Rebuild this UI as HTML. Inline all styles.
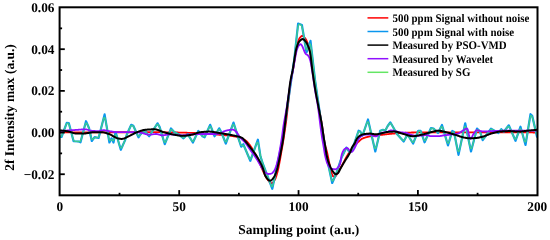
<!DOCTYPE html>
<html><head><meta charset="utf-8"><style>
html,body{margin:0;padding:0;background:#fff;}
svg{display:block;}
text{font-family:'Liberation Serif','Times New Roman',serif;font-weight:bold;fill:#000;text-rendering:geometricPrecision;}
</style></head><body>
<svg width="550" height="240" viewBox="0 0 550 240">
<rect width="550" height="240" fill="#fff"/>
<g fill="none" stroke-linejoin="round" stroke-linecap="round">
<path d="M60.0,132.40 60.5,132.40 61.0,132.40 61.5,132.40 62.0,132.39 62.5,132.39 63.0,132.39 63.5,132.39 64.0,132.39 64.5,132.39 65.0,132.39 65.5,132.38 66.0,132.38 66.5,132.38 67.0,132.38 67.5,132.38 68.0,132.38 68.5,132.38 69.0,132.38 69.5,132.37 70.0,132.37 70.5,132.37 71.0,132.37 71.5,132.37 72.0,132.37 72.5,132.37 73.0,132.36 73.5,132.36 74.0,132.36 74.5,132.36 75.0,132.36 75.5,132.36 76.0,132.36 76.5,132.36 77.0,132.35 77.5,132.35 78.0,132.35 78.5,132.35 79.0,132.35 79.5,132.35 80.0,132.35 80.5,132.35 81.0,132.34 81.5,132.34 82.0,132.34 82.5,132.34 83.0,132.34 83.5,132.34 84.0,132.34 84.5,132.34 85.0,132.33 85.5,132.33 86.0,132.33 86.5,132.33 87.0,132.33 87.5,132.33 88.0,132.33 88.5,132.33 89.0,132.32 89.5,132.32 90.0,132.32 90.5,132.32 91.0,132.32 91.5,132.32 92.0,132.32 92.5,132.32 93.0,132.32 93.5,132.31 94.0,132.31 94.5,132.31 95.0,132.31 95.5,132.31 96.0,132.31 96.5,132.31 97.0,132.31 97.5,132.31 98.0,132.30 98.5,132.30 99.0,132.30 99.5,132.30 100.0,132.30 100.5,132.30 101.0,132.30 101.5,132.30 102.0,132.30 102.5,132.29 103.0,132.29 103.5,132.29 104.0,132.29 104.5,132.29 105.0,132.29 105.5,132.29 106.0,132.29 106.5,132.29 107.0,132.28 107.5,132.28 108.0,132.28 108.5,132.28 109.0,132.28 109.5,132.28 110.0,132.28 110.5,132.28 111.0,132.27 111.5,132.27 112.0,132.27 112.5,132.27 113.0,132.27 113.5,132.27 114.0,132.27 114.5,132.27 115.0,132.26 115.5,132.26 116.0,132.26 116.5,132.26 117.0,132.26 117.5,132.26 118.0,132.26 118.5,132.26 119.0,132.26 119.5,132.25 120.0,132.25 120.5,132.25 121.0,132.25 121.5,132.25 122.0,132.25 122.5,132.25 123.0,132.25 123.5,132.24 124.0,132.24 124.5,132.24 125.0,132.24 125.5,132.24 126.0,132.24 126.5,132.24 127.0,132.24 127.5,132.24 128.0,132.23 128.5,132.23 129.0,132.23 129.5,132.23 130.0,132.23 130.5,132.23 131.0,132.23 131.5,132.23 132.0,132.23 132.5,132.22 133.0,132.22 133.5,132.22 134.0,132.22 134.5,132.22 135.0,132.22 135.5,132.22 136.0,132.22 136.5,132.22 137.0,132.22 137.5,132.22 138.0,132.22 138.5,132.21 139.0,132.21 139.5,132.21 140.0,132.21 140.5,132.21 141.0,132.21 141.5,132.21 142.0,132.21 142.5,132.21 143.0,132.21 143.5,132.21 144.0,132.21 144.5,132.21 145.0,132.21 145.5,132.21 146.0,132.20 146.5,132.20 147.0,132.20 147.5,132.20 148.0,132.20 148.5,132.20 149.0,132.20 149.5,132.20 150.0,132.20 150.5,132.20 151.0,132.20 151.5,132.20 152.0,132.20 152.5,132.20 153.0,132.20 153.5,132.20 154.0,132.20 154.5,132.20 155.0,132.20 155.5,132.20 156.0,132.20 156.5,132.20 157.0,132.20 157.5,132.20 158.0,132.21 158.5,132.21 159.0,132.21 159.5,132.21 160.0,132.22 160.5,132.22 161.0,132.23 161.5,132.23 162.0,132.23 162.5,132.24 163.0,132.24 163.5,132.25 164.0,132.26 164.5,132.26 165.0,132.27 165.5,132.28 166.0,132.28 166.5,132.29 167.0,132.30 167.5,132.30 168.0,132.31 168.5,132.32 169.0,132.33 169.5,132.34 170.0,132.35 170.5,132.36 171.0,132.37 171.5,132.38 172.0,132.39 172.5,132.40 173.0,132.41 173.5,132.42 174.0,132.43 174.5,132.44 175.0,132.45 175.5,132.46 176.0,132.47 176.5,132.49 177.0,132.50 177.5,132.51 178.0,132.52 178.5,132.53 179.0,132.55 179.5,132.56 180.0,132.57 180.5,132.59 181.0,132.60 181.5,132.61 182.0,132.63 182.5,132.64 183.0,132.65 183.5,132.67 184.0,132.68 184.5,132.70 185.0,132.71 185.5,132.72 186.0,132.74 186.5,132.75 187.0,132.77 187.5,132.78 188.0,132.80 188.5,132.81 189.0,132.83 189.5,132.84 190.0,132.86 190.5,132.87 191.0,132.89 191.5,132.90 192.0,132.92 192.5,132.94 193.0,132.95 193.5,132.97 194.0,132.99 194.5,133.01 195.0,133.04 195.5,133.06 196.0,133.08 196.5,133.11 197.0,133.13 197.5,133.16 198.0,133.18 198.5,133.21 199.0,133.24 199.5,133.27 200.0,133.30 200.5,133.33 201.0,133.36 201.5,133.39 202.0,133.42 202.5,133.45 203.0,133.49 203.5,133.52 204.0,133.55 204.5,133.59 205.0,133.62 205.5,133.66 206.0,133.70 206.5,133.73 207.0,133.77 207.5,133.81 208.0,133.85 208.5,133.88 209.0,133.92 209.5,133.96 210.0,134.00 210.5,134.04 211.0,134.08 211.5,134.12 212.0,134.16 212.5,134.20 213.0,134.24 213.5,134.28 214.0,134.32 214.5,134.36 215.0,134.40 215.5,134.44 216.0,134.49 216.5,134.53 217.0,134.57 217.5,134.61 218.0,134.65 218.5,134.69 219.0,134.73 219.5,134.77 220.0,134.81 220.5,134.86 221.0,134.90 221.5,134.94 222.0,134.98 222.5,135.02 223.0,135.06 223.5,135.11 224.0,135.15 224.5,135.19 225.0,135.24 225.5,135.28 226.0,135.33 226.5,135.38 227.0,135.43 227.5,135.48 228.0,135.54 228.5,135.59 229.0,135.65 229.5,135.70 230.0,135.76 230.5,135.83 231.0,135.89 231.5,135.96 232.0,136.03 232.5,136.10 233.0,136.17 233.5,136.25 234.0,136.33 234.5,136.42 235.0,136.52 235.5,136.62 236.0,136.73 236.5,136.85 237.0,136.97 237.5,137.10 238.0,137.23 238.5,137.37 239.0,137.52 239.5,137.68 240.0,137.83 240.5,138.00 241.0,138.17 241.5,138.36 242.0,138.56 242.5,138.77 243.0,139.00 243.5,139.25 244.0,139.52 244.5,139.80 245.0,140.10 245.5,140.43 246.0,140.77 246.5,141.17 247.0,141.64 247.5,142.16 248.0,142.73 248.5,143.34 249.0,143.98 249.5,144.64 250.0,145.32 250.5,146.00 251.0,146.71 251.5,147.46 252.0,148.25 252.5,149.07 253.0,149.92 253.5,150.80 254.0,151.70 254.5,152.62 255.0,153.56 255.5,154.50 256.0,155.47 256.5,156.49 257.0,157.53 257.5,158.61 258.0,159.70 258.5,160.80 259.0,161.90 259.5,163.00 260.0,164.11 260.5,165.25 261.0,166.41 261.5,167.57 262.0,168.72 262.5,169.85 263.0,170.95 263.5,172.00 264.0,173.04 264.5,174.10 265.0,175.15 265.5,176.17 266.0,177.14 266.5,178.04 267.0,178.83 267.5,179.50 268.0,180.11 268.5,180.73 269.0,181.32 269.5,181.88 270.0,182.36 270.5,182.76 271.0,183.04 271.5,183.19 272.0,183.15 272.5,182.88 273.0,182.42 273.5,181.81 274.0,181.10 274.5,180.35 275.0,179.50 275.5,178.36 276.0,177.00 276.5,175.45 277.0,173.77 277.5,172.00 278.0,170.01 278.5,167.69 279.0,165.17 279.5,162.55 280.0,159.89 280.5,157.06 281.0,154.13 281.5,151.17 282.0,148.27 282.5,145.39 283.0,142.46 283.5,139.37 284.0,136.17 284.5,132.88 285.0,129.48 285.5,125.96 286.0,122.29 286.5,118.42 287.0,114.21 287.5,109.78 288.0,105.27 288.5,100.86 289.0,96.50 289.5,91.99 290.0,87.57 290.5,83.48 291.0,80.00 291.5,77.22 292.0,74.84 292.5,72.55 293.0,70.00 293.5,67.03 294.0,63.84 294.5,60.63 295.0,57.45 295.5,54.22 296.0,51.14 296.5,48.33 297.0,45.67 297.5,43.50 298.0,41.78 298.5,40.28 299.0,39.11 299.5,38.32 300.0,37.65 300.5,37.04 301.0,36.53 301.5,36.15 302.0,35.94 302.5,35.92 303.0,36.10 303.5,36.45 304.0,36.94 304.5,37.51 305.0,38.15 305.5,38.80 306.0,39.55 306.5,40.48 307.0,41.57 307.5,42.80 308.0,44.15 308.5,45.61 309.0,47.34 309.5,49.34 310.0,51.57 310.5,54.02 311.0,56.91 311.5,60.08 312.0,63.28 312.5,66.59 313.0,70.00 313.5,73.54 314.0,77.22 314.5,80.93 315.0,84.57 315.5,88.04 316.0,91.25 316.5,94.24 317.0,97.09 317.5,99.85 318.0,102.58 318.5,105.32 319.0,108.12 319.5,110.89 320.0,113.62 320.5,116.36 321.0,119.15 321.5,122.01 322.0,125.00 322.5,128.28 323.0,131.86 323.5,135.49 324.0,138.94 324.5,141.96 325.0,144.38 325.5,146.39 326.0,148.20 326.5,150.01 327.0,152.00 327.5,154.28 328.0,156.73 328.5,159.24 329.0,161.70 329.5,164.00 330.0,166.17 330.5,168.27 331.0,170.24 331.5,172.00 332.0,173.78 332.5,175.41 333.0,176.20 333.5,176.33 334.0,176.42 334.5,176.48 335.0,176.50 335.5,176.28 336.0,175.68 336.5,174.84 337.0,173.87 337.5,172.88 338.0,172.00 338.5,171.21 339.0,170.40 339.5,169.59 340.0,168.77 340.5,167.93 341.0,167.08 341.5,166.22 342.0,165.35 342.5,164.46 343.0,163.54 343.5,162.59 344.0,161.62 344.5,160.64 345.0,159.66 345.5,158.70 346.0,157.76 346.5,156.86 347.0,156.00 347.5,155.17 348.0,154.35 348.5,153.55 349.0,152.76 349.5,151.98 350.0,151.23 350.5,150.51 351.0,149.81 351.5,149.14 352.0,148.50 352.5,147.89 353.0,147.30 353.5,146.72 354.0,146.16 354.5,145.62 355.0,145.09 355.5,144.58 356.0,144.08 356.5,143.59 357.0,143.11 357.5,142.64 358.0,142.18 358.5,141.73 359.0,141.26 359.5,140.79 360.0,140.34 360.5,139.90 361.0,139.49 361.5,139.13 362.0,138.81 362.5,138.55 363.0,138.33 363.5,138.13 364.0,137.95 364.5,137.78 365.0,137.63 365.5,137.48 366.0,137.35 366.5,137.21 367.0,137.08 367.5,136.95 368.0,136.82 368.5,136.70 369.0,136.58 369.5,136.48 370.0,136.38 370.5,136.30 371.0,136.21 371.5,136.14 372.0,136.06 372.5,135.99 373.0,135.93 373.5,135.86 374.0,135.80 374.5,135.73 375.0,135.67 375.5,135.61 376.0,135.55 376.5,135.49 377.0,135.42 377.5,135.36 378.0,135.30 378.5,135.24 379.0,135.17 379.5,135.11 380.0,135.05 380.5,134.98 381.0,134.92 381.5,134.86 382.0,134.80 382.5,134.74 383.0,134.68 383.5,134.61 384.0,134.55 384.5,134.49 385.0,134.44 385.5,134.38 386.0,134.32 386.5,134.26 387.0,134.21 387.5,134.15 388.0,134.10 388.5,134.04 389.0,133.99 389.5,133.94 390.0,133.89 390.5,133.84 391.0,133.79 391.5,133.75 392.0,133.70 392.5,133.66 393.0,133.62 393.5,133.58 394.0,133.54 394.5,133.50 395.0,133.46 395.5,133.43 396.0,133.39 396.5,133.35 397.0,133.32 397.5,133.28 398.0,133.24 398.5,133.21 399.0,133.17 399.5,133.14 400.0,133.10 400.5,133.07 401.0,133.03 401.5,133.00 402.0,132.97 402.5,132.93 403.0,132.90 403.5,132.87 404.0,132.84 404.5,132.81 405.0,132.78 405.5,132.76 406.0,132.73 406.5,132.71 407.0,132.68 407.5,132.66 408.0,132.64 408.5,132.62 409.0,132.60 409.5,132.58 410.0,132.56 410.5,132.55 411.0,132.53 411.5,132.52 412.0,132.51 412.5,132.50 413.0,132.50 413.5,132.49 414.0,132.48 414.5,132.47 415.0,132.47 415.5,132.46 416.0,132.45 416.5,132.45 417.0,132.44 417.5,132.44 418.0,132.43 418.5,132.42 419.0,132.42 419.5,132.41 420.0,132.41 420.5,132.40 421.0,132.40 421.5,132.39 422.0,132.39 422.5,132.38 423.0,132.38 423.5,132.37 424.0,132.37 424.5,132.36 425.0,132.36 425.5,132.35 426.0,132.35 426.5,132.35 427.0,132.34 427.5,132.34 428.0,132.34 428.5,132.33 429.0,132.33 429.5,132.33 430.0,132.32 430.5,132.32 431.0,132.32 431.5,132.32 432.0,132.31 432.5,132.31 433.0,132.31 433.5,132.31 434.0,132.31 434.5,132.30 435.0,132.30 435.5,132.30 436.0,132.30 436.5,132.30 437.0,132.30 437.5,132.30 438.0,132.30 438.5,132.30 439.0,132.30 439.5,132.30 440.0,132.30 440.5,132.30 441.0,132.30 441.5,132.30 442.0,132.30 442.5,132.30 443.0,132.30 443.5,132.30 444.0,132.30 444.5,132.30 445.0,132.30 445.5,132.30 446.0,132.30 446.5,132.30 447.0,132.30 447.5,132.30 448.0,132.30 448.5,132.30 449.0,132.30 449.5,132.30 450.0,132.30 450.5,132.30 451.0,132.30 451.5,132.30 452.0,132.30 452.5,132.30 453.0,132.30 453.5,132.30 454.0,132.30 454.5,132.30 455.0,132.30 455.5,132.30 456.0,132.30 456.5,132.30 457.0,132.30 457.5,132.30 458.0,132.30 458.5,132.30 459.0,132.30 459.5,132.30 460.0,132.30 460.5,132.30 461.0,132.30 461.5,132.30 462.0,132.30 462.5,132.30 463.0,132.30 463.5,132.30 464.0,132.30 464.5,132.30 465.0,132.30 465.5,132.30 466.0,132.30 466.5,132.30 467.0,132.30 467.5,132.31 468.0,132.31 468.5,132.31 469.0,132.31 469.5,132.31 470.0,132.31 470.5,132.31 471.0,132.31 471.5,132.31 472.0,132.31 472.5,132.31 473.0,132.31 473.5,132.31 474.0,132.31 474.5,132.31 475.0,132.31 475.5,132.31 476.0,132.31 476.5,132.31 477.0,132.31 477.5,132.31 478.0,132.31 478.5,132.31 479.0,132.31 479.5,132.31 480.0,132.32 480.5,132.32 481.0,132.32 481.5,132.32 482.0,132.32 482.5,132.32 483.0,132.32 483.5,132.32 484.0,132.32 484.5,132.32 485.0,132.32 485.5,132.32 486.0,132.32 486.5,132.32 487.0,132.32 487.5,132.32 488.0,132.33 488.5,132.33 489.0,132.33 489.5,132.33 490.0,132.33 490.5,132.33 491.0,132.33 491.5,132.33 492.0,132.33 492.5,132.33 493.0,132.33 493.5,132.34 494.0,132.34 494.5,132.34 495.0,132.34 495.5,132.34 496.0,132.34 496.5,132.34 497.0,132.34 497.5,132.34 498.0,132.34 498.5,132.35 499.0,132.35 499.5,132.35 500.0,132.35 500.5,132.35 501.0,132.35 501.5,132.35 502.0,132.35 502.5,132.36 503.0,132.36 503.5,132.36 504.0,132.36 504.5,132.36 505.0,132.36 505.5,132.36 506.0,132.36 506.5,132.37 507.0,132.37 507.5,132.37 508.0,132.37 508.5,132.37 509.0,132.37 509.5,132.38 510.0,132.38 510.5,132.38 511.0,132.38 511.5,132.38 512.0,132.38 512.5,132.39 513.0,132.39 513.5,132.39 514.0,132.39 514.5,132.39 515.0,132.39 515.5,132.40 516.0,132.40 516.5,132.40 517.0,132.40 517.5,132.40 518.0,132.41 518.5,132.41 519.0,132.41 519.5,132.41 520.0,132.41 520.5,132.42 521.0,132.42 521.5,132.42 522.0,132.42 522.5,132.42 523.0,132.43 523.5,132.43 524.0,132.43 524.5,132.43 525.0,132.44 525.5,132.44 526.0,132.44 526.5,132.44 527.0,132.45 527.5,132.45 528.0,132.45 528.5,132.45 529.0,132.46 529.5,132.46 530.0,132.46 530.5,132.46 531.0,132.47 531.5,132.47 532.0,132.47 532.5,132.47 533.0,132.48 533.5,132.48 534.0,132.48 534.5,132.49 535.0,132.49 535.5,132.49 536.0,132.49 536.5,132.50 537.0,132.50" stroke="#ff0000" stroke-width="1.8"/>
<path d="M60.50,136.70 L61.50,137.00 L66.75,122.90 L68.80,123.00 L73.60,141.25 L78.80,141.50 L80.50,142.30 L86.00,121.20 L89.00,128.00 L91.80,141.00 L94.60,137.20 L98.60,138.00 L104.60,114.40 L109.40,142.50 L111.50,138.30 L113.50,142.50 L115.60,132.00 L120.80,149.80 L125.00,140.40 L127.00,134.00 L131.25,124.80 L133.30,125.80 L138.50,137.30 L140.60,134.20 L144.80,131.00 L149.20,136.25 L157.50,123.30 L159.60,126.90 L164.80,144.20 L171.00,128.50 L174.20,132.00 L178.30,134.20 L183.50,138.30 L187.70,134.20 L192.90,142.50 L198.30,131.00 L202.50,136.25 L204.60,137.30 L210.20,124.80 L214.60,136.25 L219.20,128.30 L221.25,132.00 L225.80,143.50 L233.50,122.60 L238.70,139.20 L241.20,146.70 L243.30,144.20 L250.30,160.80 L257.90,139.70 L260.40,156.00 L262.75,163.50 L272.30,188.80 L282.50,140.00 L288.30,100.00 L294.20,60.00 L298.10,23.50 L301.90,25.00 L306.50,52.50 L310.50,40.80 L315.00,80.00 L320.80,120.00 L326.20,155.00 L332.20,183.00 L335.50,175.50 L341.75,157.00 L343.00,154.70 L346.40,147.60 L349.30,152.00 L351.50,151.50 L358.60,130.75 L360.30,131.50 L362.50,135.50 L368.00,119.50 L375.30,151.40 L380.20,130.75 L383.00,129.80 L385.30,130.50 L387.70,126.00 L390.30,122.30 L392.50,126.00 L397.00,134.00 L403.70,141.50 L407.50,134.50 L413.10,143.50 L418.30,130.75 L420.60,130.75 L424.60,142.30 L431.00,128.00 L433.50,128.50 L438.00,133.00 L442.00,125.00 L448.00,145.40 L452.30,131.00 L454.00,132.00 L458.50,154.80 L465.20,123.30 L471.00,151.50 L477.00,128.50 L480.00,131.50 L482.70,140.20 L491.00,128.75 L498.30,133.00 L501.30,129.20 L503.80,131.70 L508.80,125.30 L515.50,140.80 L520.50,126.70 L525.50,145.00 L530.50,114.20 L532.20,115.80 L537.00,136.70" stroke="#0a96ee" stroke-width="2.2"/>
<path d="M60.5,136.68 61.0,136.50 61.5,136.06 62.0,135.27 62.5,134.19 63.0,132.94 63.5,131.62 64.0,130.29 64.5,128.94 65.0,127.61 65.5,126.31 66.0,125.12 66.5,124.15 67.0,123.50 67.5,123.21 68.0,123.27 68.5,123.71 69.0,124.62 69.5,125.98 70.0,127.65 70.5,129.48 71.0,131.37 71.5,133.26 72.0,135.14 72.5,136.95 73.0,138.58 73.5,139.85 74.0,140.68 74.5,141.10 75.0,141.27 75.5,141.33 76.0,141.36 76.5,141.39 77.0,141.41 77.5,141.44 78.0,141.49 78.5,141.56 79.0,141.65 79.5,141.69 80.0,141.52 80.5,140.93 81.0,139.83 81.5,138.29 82.0,136.51 82.5,134.62 83.0,132.71 83.5,130.79 84.0,128.88 84.5,127.01 85.0,125.28 85.5,123.91 86.0,123.14 86.5,123.12 87.0,123.72 87.5,124.68 88.0,125.84 88.5,127.17 89.0,128.76 89.5,130.63 90.0,132.72 90.5,134.88 91.0,136.89 91.5,138.46 92.0,139.36 92.5,139.55 93.0,139.24 93.5,138.71 94.0,138.17 94.5,137.76 95.0,137.53 95.5,137.46 96.0,137.50 96.5,137.58 97.0,137.65 97.5,137.65 98.0,137.45 98.5,136.86 99.0,135.77 99.5,134.25 100.0,132.44 100.5,130.52 101.0,128.56 101.5,126.59 102.0,124.63 102.5,122.67 103.0,120.76 103.5,119.03 104.0,117.78 104.5,117.45 105.0,118.29 105.5,120.18 106.0,122.72 106.5,125.55 107.0,128.45 107.5,131.36 108.0,134.20 108.5,136.82 109.0,138.92 109.5,140.18 110.0,140.52 110.5,140.22 111.0,139.78 111.5,139.59 112.0,139.81 112.5,140.28 113.0,140.57 113.5,140.25 114.0,139.14 114.5,137.47 115.0,135.81 115.5,134.77 116.0,134.70 116.5,135.52 117.0,136.90 117.5,138.52 118.0,140.22 118.5,141.92 119.0,143.62 119.5,145.25 120.0,146.69 120.5,147.69 121.0,148.06 121.5,147.76 122.0,146.98 122.5,145.97 123.0,144.87 123.5,143.75 124.0,142.60 124.5,141.40 125.0,140.10 125.5,138.69 126.0,137.20 126.5,135.72 127.0,134.33 127.5,133.05 128.0,131.88 128.5,130.76 129.0,129.67 129.5,128.60 130.0,127.56 130.5,126.62 131.0,125.90 131.5,125.48 132.0,125.39 132.5,125.58 133.0,125.99 133.5,126.64 134.0,127.49 134.5,128.49 135.0,129.57 135.5,130.67 136.0,131.77 136.5,132.87 137.0,133.95 137.5,134.94 138.0,135.72 138.5,136.13 139.0,136.09 139.5,135.70 140.0,135.13 140.5,134.54 141.0,134.01 141.5,133.55 142.0,133.14 142.5,132.75 143.0,132.38 143.5,132.02 144.0,131.74 144.5,131.60 145.0,131.69 145.5,132.00 146.0,132.48 146.5,133.04 147.0,133.62 147.5,134.21 148.0,134.75 148.5,135.18 149.0,135.38 149.5,135.26 150.0,134.82 150.5,134.17 151.0,133.43 151.5,132.66 152.0,131.88 152.5,131.10 153.0,130.32 153.5,129.54 154.0,128.76 154.5,127.98 155.0,127.20 155.5,126.43 156.0,125.67 156.5,124.99 157.0,124.50 157.5,124.35 158.0,124.59 158.5,125.20 159.0,126.07 159.5,127.17 160.0,128.49 160.5,129.98 161.0,131.58 161.5,133.22 162.0,134.88 162.5,136.55 163.0,138.19 163.5,139.77 164.0,141.15 164.5,142.08 165.0,142.35 165.5,141.94 166.0,141.03 166.5,139.87 167.0,138.63 167.5,137.36 168.0,136.10 168.5,134.83 169.0,133.57 169.5,132.33 170.0,131.18 170.5,130.23 171.0,129.66 171.5,129.52 172.0,129.74 172.5,130.17 173.0,130.68 173.5,131.19 174.0,131.65 174.5,132.05 175.0,132.39 175.5,132.69 176.0,132.96 176.5,133.23 177.0,133.51 177.5,133.79 178.0,134.09 178.5,134.42 179.0,134.77 179.5,135.15 180.0,135.54 180.5,135.93 181.0,136.33 181.5,136.72 182.0,137.10 182.5,137.44 183.0,137.68 183.5,137.74 184.0,137.58 184.5,137.25 185.0,136.82 185.5,136.35 186.0,135.87 186.5,135.43 187.0,135.10 187.5,134.98 188.0,135.17 188.5,135.65 189.0,136.32 189.5,137.08 190.0,137.87 190.5,138.67 191.0,139.46 191.5,140.22 192.0,140.87 192.5,141.27 193.0,141.28 193.5,140.83 194.0,140.04 194.5,139.07 195.0,138.02 195.5,136.96 196.0,135.90 196.5,134.84 197.0,133.83 197.5,132.93 198.0,132.28 198.5,132.02 199.0,132.16 199.5,132.58 200.0,133.14 200.5,133.75 201.0,134.37 201.5,134.97 202.0,135.53 202.5,136.01 203.0,136.38 203.5,136.64 204.0,136.71 204.5,136.51 205.0,135.98 205.5,135.15 206.0,134.14 206.5,133.05 207.0,131.94 207.5,130.83 208.0,129.71 208.5,128.62 209.0,127.59 209.5,126.77 210.0,126.35 210.5,126.50 211.0,127.20 211.5,128.27 212.0,129.50 212.5,130.78 213.0,132.06 213.5,133.25 214.0,134.24 214.5,134.82 215.0,134.88 215.5,134.47 216.0,133.77 216.5,132.96 217.0,132.10 217.5,131.25 218.0,130.46 218.5,129.81 219.0,129.45 219.5,129.52 220.0,129.99 220.5,130.76 221.0,131.71 221.5,132.78 222.0,133.95 222.5,135.17 223.0,136.43 223.5,137.68 224.0,138.93 224.5,140.12 225.0,141.13 225.5,141.74 226.0,141.76 226.5,141.16 227.0,140.12 227.5,138.86 228.0,137.53 228.5,136.17 229.0,134.81 229.5,133.46 230.0,132.10 230.5,130.74 231.0,129.39 231.5,128.04 232.0,126.73 232.5,125.55 233.0,124.72 233.5,124.48 234.0,124.96 234.5,126.03 235.0,127.44 235.5,128.99 236.0,130.58 236.5,132.18 237.0,133.77 237.5,135.36 238.0,136.95 238.5,138.52 239.0,140.06 239.5,141.57 240.0,143.00 240.5,144.25 241.0,145.14 241.5,145.55 242.0,145.53 242.5,145.32 243.0,145.22 243.5,145.49 244.0,146.16 244.5,147.13 245.0,148.25 245.5,149.42 246.0,150.60 246.5,151.79 247.0,152.97 247.5,154.16 248.0,155.34 248.5,156.51 249.0,157.63 249.5,158.56 250.0,159.11 250.5,159.07 251.0,158.43 251.5,157.35 252.0,156.06 252.5,154.69 253.0,153.30 253.5,151.92 254.0,150.53 254.5,149.14 255.0,147.75 255.5,146.37 256.0,145.00 256.5,143.71 257.0,142.68 257.5,142.28 258.0,142.87 258.5,144.58 259.0,147.12 259.5,150.02 260.0,152.88 260.5,155.42 261.0,157.56 261.5,159.40 262.0,161.04 262.5,162.58 263.0,164.05 263.5,165.45 264.0,166.80 264.5,168.13 265.0,169.46 265.5,170.79 266.0,172.11 266.5,173.43 267.0,174.76 267.5,176.08 268.0,177.41 268.5,178.73 269.0,180.06 269.5,181.38 270.0,182.70 270.5,184.01 271.0,185.23 271.5,186.19 272.0,186.59 272.5,186.14 273.0,184.83 273.5,182.89 274.0,180.63 274.5,178.27 275.0,175.88 275.5,173.49 276.0,171.10 276.5,168.71 277.0,166.31 277.5,163.92 278.0,161.53 278.5,159.14 279.0,156.75 279.5,154.35 280.0,151.96 280.5,149.57 281.0,147.16 281.5,144.70 282.0,142.12 282.5,139.33 283.0,136.28 283.5,133.02 284.0,129.64 284.5,126.20 285.0,122.76 285.5,119.31 286.0,115.86 286.5,112.41 287.0,108.97 287.5,105.52 288.0,102.09 288.5,98.67 289.0,95.26 289.5,91.87 290.0,88.48 290.5,85.08 291.0,81.69 291.5,78.30 292.0,74.91 292.5,71.51 293.0,68.08 293.5,64.53 294.0,60.77 294.5,56.70 295.0,52.34 295.5,47.79 296.0,43.16 296.5,38.54 297.0,34.09 297.5,30.14 298.0,27.08 298.5,25.20 299.0,24.36 299.5,24.18 300.0,24.29 300.5,24.52 301.0,24.93 301.5,25.72 302.0,27.11 302.5,29.17 303.0,31.75 303.5,34.60 304.0,37.56 304.5,40.53 305.0,43.45 305.5,46.16 306.0,48.36 306.5,49.66 307.0,49.89 307.5,49.22 308.0,48.03 308.5,46.65 309.0,45.29 309.5,44.19 310.0,43.77 310.5,44.51 311.0,46.66 311.5,49.98 312.0,53.98 312.5,58.24 313.0,62.58 313.5,66.92 314.0,71.22 314.5,75.41 315.0,79.42 315.5,83.21 316.0,86.82 316.5,90.33 317.0,93.79 317.5,97.24 318.0,100.69 318.5,104.14 319.0,107.58 319.5,111.03 320.0,114.46 320.5,117.85 321.0,121.20 321.5,124.50 322.0,127.77 322.5,131.02 323.0,134.26 323.5,137.50 324.0,140.74 324.5,143.97 325.0,147.18 325.5,150.31 326.0,153.29 326.5,156.05 327.0,158.61 327.5,161.04 328.0,163.39 328.5,165.73 329.0,168.07 329.5,170.40 330.0,172.73 330.5,175.03 331.0,177.24 331.5,179.15 332.0,180.48 332.5,180.99 333.0,180.72 333.5,179.92 334.0,178.88 334.5,177.74 335.0,176.55 335.5,175.28 336.0,173.93 336.5,172.51 337.0,171.05 337.5,169.58 338.0,168.10 338.5,166.62 339.0,165.14 339.5,163.66 340.0,162.18 340.5,160.72 341.0,159.30 341.5,157.97 342.0,156.76 342.5,155.67 343.0,154.64 343.5,153.63 344.0,152.60 344.5,151.57 345.0,150.57 345.5,149.67 346.0,149.00 346.5,148.73 347.0,148.89 347.5,149.37 348.0,150.02 348.5,150.67 349.0,151.21 349.5,151.55 350.0,151.67 350.5,151.58 351.0,151.26 351.5,150.64 352.0,149.69 352.5,148.47 353.0,147.09 353.5,145.65 354.0,144.19 354.5,142.73 355.0,141.27 355.5,139.81 356.0,138.35 356.5,136.89 357.0,135.45 357.5,134.07 358.0,132.86 358.5,131.96 359.0,131.48 359.5,131.41 360.0,131.67 360.5,132.18 361.0,132.84 361.5,133.52 362.0,133.99 362.5,133.99 363.0,133.44 363.5,132.40 364.0,131.09 364.5,129.67 365.0,128.23 365.5,126.77 366.0,125.33 366.5,123.93 367.0,122.70 367.5,121.89 368.0,121.82 368.5,122.62 369.0,124.16 369.5,126.12 370.0,128.25 370.5,130.43 371.0,132.61 371.5,134.79 372.0,136.98 372.5,139.16 373.0,141.35 373.5,143.51 374.0,145.57 374.5,147.33 375.0,148.45 375.5,148.59 376.0,147.73 376.5,146.14 377.0,144.19 377.5,142.12 378.0,140.02 378.5,137.93 379.0,135.90 379.5,134.02 380.0,132.48 380.5,131.39 381.0,130.74 381.5,130.38 382.0,130.18 382.5,130.05 383.0,130.00 383.5,130.03 384.0,130.09 384.5,130.12 385.0,129.99 385.5,129.63 386.0,129.01 386.5,128.21 387.0,127.34 387.5,126.48 388.0,125.66 388.5,124.90 389.0,124.21 389.5,123.65 390.0,123.32 390.5,123.35 391.0,123.74 391.5,124.39 392.0,125.19 392.5,126.03 393.0,126.90 393.5,127.78 394.0,128.67 394.5,129.56 395.0,130.44 395.5,131.33 396.0,132.20 396.5,133.03 397.0,133.79 397.5,134.47 398.0,135.09 398.5,135.67 399.0,136.24 399.5,136.80 400.0,137.36 400.5,137.92 401.0,138.48 401.5,139.04 402.0,139.58 402.5,140.09 403.0,140.47 403.5,140.60 404.0,140.38 404.5,139.83 405.0,139.05 405.5,138.18 406.0,137.29 406.5,136.48 407.0,135.87 407.5,135.60 408.0,135.75 408.5,136.25 409.0,136.94 409.5,137.72 410.0,138.52 410.5,139.32 411.0,140.12 411.5,140.90 412.0,141.61 412.5,142.11 413.0,142.24 413.5,141.88 414.0,141.08 414.5,140.02 415.0,138.83 415.5,137.61 416.0,136.39 416.5,135.17 417.0,133.98 417.5,132.87 418.0,131.95 418.5,131.31 419.0,130.97 419.5,130.90 420.0,131.06 420.5,131.53 421.0,132.36 421.5,133.50 422.0,134.83 422.5,136.24 423.0,137.65 423.5,138.97 424.0,140.03 424.5,140.62 425.0,140.60 425.5,140.02 426.0,139.11 426.5,138.04 427.0,136.94 427.5,135.82 428.0,134.70 428.5,133.59 429.0,132.47 429.5,131.37 430.0,130.33 430.5,129.43 431.0,128.78 431.5,128.42 432.0,128.31 432.5,128.35 433.0,128.51 433.5,128.76 434.0,129.10 434.5,129.53 435.0,130.01 435.5,130.50 436.0,131.00 436.5,131.47 437.0,131.88 437.5,132.11 438.0,132.04 438.5,131.61 439.0,130.88 439.5,129.97 440.0,129.00 440.5,128.05 441.0,127.22 441.5,126.70 442.0,126.72 442.5,127.40 443.0,128.62 443.5,130.15 444.0,131.81 444.5,133.50 445.0,135.20 445.5,136.90 446.0,138.59 446.5,140.24 447.0,141.73 447.5,142.83 448.0,143.25 448.5,142.85 449.0,141.78 449.5,140.31 450.0,138.69 450.5,137.04 451.0,135.42 451.5,133.94 452.0,132.76 452.5,132.06 453.0,131.92 453.5,132.38 454.0,133.45 454.5,135.11 455.0,137.25 455.5,139.64 456.0,142.14 456.5,144.65 457.0,147.11 457.5,149.34 458.0,151.01 458.5,151.69 459.0,151.19 459.5,149.71 460.0,147.66 460.5,145.38 461.0,143.04 461.5,140.70 462.0,138.34 462.5,135.99 463.0,133.65 463.5,131.34 464.0,129.16 464.5,127.39 465.0,126.43 465.5,126.58 466.0,127.82 466.5,129.79 467.0,132.08 467.5,134.49 468.0,136.91 468.5,139.34 469.0,141.76 469.5,144.13 470.0,146.29 470.5,147.95 471.0,148.73 471.5,148.46 472.0,147.32 472.5,145.67 473.0,143.82 473.5,141.92 474.0,140.00 474.5,138.08 475.0,136.17 475.5,134.30 476.0,132.53 476.5,131.04 477.0,130.04 477.5,129.62 478.0,129.70 478.5,130.07 479.0,130.60 479.5,131.29 480.0,132.21 480.5,133.39 481.0,134.79 481.5,136.25 482.0,137.56 482.5,138.50 483.0,138.91 483.5,138.79 484.0,138.33 484.5,137.70 485.0,137.03 485.5,136.34 486.0,135.65 486.5,134.96 487.0,134.27 487.5,133.58 488.0,132.89 488.5,132.20 489.0,131.51 489.5,130.84 490.0,130.21 490.5,129.69 491.0,129.38 491.5,129.29 492.0,129.41 492.5,129.64 493.0,129.92 493.5,130.21 494.0,130.50 494.5,130.79 495.0,131.08 495.5,131.37 496.0,131.66 496.5,131.95 497.0,132.21 497.5,132.41 498.0,132.47 498.5,132.32 499.0,131.96 499.5,131.44 500.0,130.88 500.5,130.36 501.0,130.01 501.5,129.92 502.0,130.08 502.5,130.41 503.0,130.76 503.5,130.97 504.0,130.92 504.5,130.61 505.0,130.11 505.5,129.51 506.0,128.88 506.5,128.25 507.0,127.62 507.5,127.03 508.0,126.56 508.5,126.37 509.0,126.58 509.5,127.22 510.0,128.16 510.5,129.25 511.0,130.39 511.5,131.55 512.0,132.70 512.5,133.86 513.0,135.02 513.5,136.17 514.0,137.28 514.5,138.28 515.0,138.98 515.5,139.16 516.0,138.73 516.5,137.77 517.0,136.52 517.5,135.15 518.0,133.75 518.5,132.35 519.0,130.99 519.5,129.78 520.0,128.95 520.5,128.76 521.0,129.37 521.5,130.62 522.0,132.25 522.5,134.03 523.0,135.85 523.5,137.66 524.0,139.42 524.5,140.95 525.0,141.90 525.5,141.87 526.0,140.65 526.5,138.45 527.0,135.67 527.5,132.66 528.0,129.60 528.5,126.53 529.0,123.51 529.5,120.65 530.0,118.20 530.5,116.48 531.0,115.67 531.5,115.71 532.0,116.46 532.5,117.77 533.0,119.51 533.5,121.52 534.0,123.65 534.5,125.81 535.0,127.98 535.5,130.11 536.0,132.12 536.5,133.84" stroke="#3ccb90" stroke-width="1.4"/>
<path d="M60.0,131.00 60.5,130.97 61.0,130.93 61.5,130.90 62.0,130.87 62.5,130.84 63.0,130.80 63.5,130.77 64.0,130.74 64.5,130.70 65.0,130.67 65.5,130.64 66.0,130.60 66.5,130.57 67.0,130.54 67.5,130.51 68.0,130.47 68.5,130.44 69.0,130.41 69.5,130.37 70.0,130.34 70.5,130.30 71.0,130.27 71.5,130.24 72.0,130.20 72.5,130.17 73.0,130.14 73.5,130.10 74.0,130.07 74.5,130.04 75.0,130.00 75.5,129.97 76.0,129.94 76.5,129.90 77.0,129.87 77.5,129.83 78.0,129.80 78.5,129.76 79.0,129.72 79.5,129.68 80.0,129.64 80.5,129.59 81.0,129.55 81.5,129.50 82.0,129.46 82.5,129.42 83.0,129.38 83.5,129.35 84.0,129.33 84.5,129.31 85.0,129.30 85.5,129.30 86.0,129.36 86.5,129.46 87.0,129.59 87.5,129.76 88.0,129.94 88.5,130.12 89.0,130.30 89.5,130.46 90.0,130.59 90.5,130.68 91.0,130.73 91.5,130.77 92.0,130.82 92.5,130.86 93.0,130.89 93.5,130.93 94.0,130.96 94.5,130.99 95.0,131.02 95.5,131.04 96.0,131.06 96.5,131.08 97.0,131.09 97.5,131.10 98.0,131.10 98.5,131.08 99.0,131.02 99.5,130.94 100.0,130.83 100.5,130.71 101.0,130.59 101.5,130.47 102.0,130.36 102.5,130.28 103.0,130.22 103.5,130.20 104.0,130.22 104.5,130.26 105.0,130.33 105.5,130.41 106.0,130.51 106.5,130.62 107.0,130.73 107.5,130.84 108.0,130.94 108.5,131.04 109.0,131.11 109.5,131.19 110.0,131.27 110.5,131.34 111.0,131.43 111.5,131.51 112.0,131.59 112.5,131.67 113.0,131.74 113.5,131.82 114.0,131.89 114.5,131.95 115.0,132.01 115.5,132.07 116.0,132.11 116.5,132.15 117.0,132.18 117.5,132.19 118.0,132.20 118.5,132.20 119.0,132.20 119.5,132.20 120.0,132.20 120.5,132.20 121.0,132.20 121.5,132.20 122.0,132.20 122.5,132.20 123.0,132.20 123.5,132.20 124.0,132.20 124.5,132.20 125.0,132.20 125.5,132.20 126.0,132.20 126.5,132.20 127.0,132.20 127.5,132.20 128.0,132.20 128.5,132.20 129.0,132.20 129.5,132.20 130.0,132.20 130.5,132.20 131.0,132.20 131.5,132.20 132.0,132.21 132.5,132.21 133.0,132.22 133.5,132.23 134.0,132.25 134.5,132.26 135.0,132.28 135.5,132.29 136.0,132.31 136.5,132.33 137.0,132.35 137.5,132.38 138.0,132.40 138.5,132.43 139.0,132.45 139.5,132.48 140.0,132.51 140.5,132.57 141.0,132.66 141.5,132.77 142.0,132.90 142.5,133.04 143.0,133.20 143.5,133.37 144.0,133.54 144.5,133.72 145.0,133.89 145.5,134.05 146.0,134.21 146.5,134.35 147.0,134.47 147.5,134.57 148.0,134.64 148.5,134.69 149.0,134.70 149.5,134.69 150.0,134.66 150.5,134.61 151.0,134.56 151.5,134.50 152.0,134.43 152.5,134.36 153.0,134.29 153.5,134.22 154.0,134.15 154.5,134.10 155.0,134.05 155.5,134.02 156.0,134.00 156.5,134.01 157.0,134.06 157.5,134.15 158.0,134.27 158.5,134.42 159.0,134.57 159.5,134.73 160.0,134.88 160.5,135.03 161.0,135.15 161.5,135.24 162.0,135.29 162.5,135.30 163.0,135.28 163.5,135.23 164.0,135.17 164.5,135.10 165.0,135.02 165.5,134.92 166.0,134.83 166.5,134.74 167.0,134.65 167.5,134.57 168.0,134.50 168.5,134.45 169.0,134.41 169.5,134.40 170.0,134.40 170.5,134.42 171.0,134.43 171.5,134.46 172.0,134.49 172.5,134.53 173.0,134.57 173.5,134.61 174.0,134.66 174.5,134.70 175.0,134.76 175.5,134.81 176.0,134.86 176.5,134.91 177.0,134.96 177.5,135.02 178.0,135.06 178.5,135.11 179.0,135.15 179.5,135.19 180.0,135.22 180.5,135.25 181.0,135.27 181.5,135.29 182.0,135.30 182.5,135.30 183.0,135.29 183.5,135.26 184.0,135.23 184.5,135.19 185.0,135.14 185.5,135.08 186.0,135.02 186.5,134.95 187.0,134.89 187.5,134.82 188.0,134.75 188.5,134.68 189.0,134.62 189.5,134.56 190.0,134.51 190.5,134.46 191.0,134.42 191.5,134.40 192.0,134.37 192.5,134.35 193.0,134.32 193.5,134.30 194.0,134.27 194.5,134.25 195.0,134.23 195.5,134.21 196.0,134.19 196.5,134.17 197.0,134.15 197.5,134.13 198.0,134.11 198.5,134.10 199.0,134.08 199.5,134.07 200.0,134.05 200.5,134.04 201.0,134.03 201.5,134.02 202.0,134.01 202.5,134.01 203.0,134.00 203.5,134.00 204.0,134.00 204.5,134.00 205.0,134.00 205.5,134.00 206.0,134.00 206.5,134.00 207.0,134.00 207.5,134.00 208.0,134.00 208.5,134.00 209.0,134.00 209.5,134.00 210.0,134.00 210.5,134.00 211.0,134.00 211.5,134.00 212.0,134.00 212.5,134.00 213.0,134.00 213.5,134.00 214.0,134.00 214.5,134.00 215.0,134.00 215.5,134.00 216.0,133.98 216.5,133.96 217.0,133.93 217.5,133.89 218.0,133.84 218.5,133.79 219.0,133.73 219.5,133.67 220.0,133.60 220.5,133.48 221.0,133.26 221.5,132.98 222.0,132.66 222.5,132.31 223.0,131.96 223.5,131.64 224.0,131.37 224.5,131.16 225.0,130.99 225.5,130.83 226.0,130.68 226.5,130.54 227.0,130.41 227.5,130.29 228.0,130.19 228.5,130.10 229.0,130.02 229.5,129.93 230.0,129.85 230.5,129.78 231.0,129.71 231.5,129.66 232.0,129.62 232.5,129.60 233.0,129.62 233.5,129.76 234.0,130.00 234.5,130.32 235.0,130.69 235.5,131.09 236.0,131.50 236.5,131.99 237.0,132.63 237.5,133.38 238.0,134.19 238.5,135.03 239.0,135.85 239.5,136.62 240.0,137.30 240.5,137.89 241.0,138.45 241.5,138.97 242.0,139.48 242.5,139.96 243.0,140.44 243.5,140.93 244.0,141.42 244.5,141.92 245.0,142.46 245.5,143.02 246.0,143.62 246.5,144.28 247.0,144.98 247.5,145.72 248.0,146.48 248.5,147.24 249.0,148.01 249.5,148.77 250.0,149.50 250.5,150.21 251.0,150.91 251.5,151.60 252.0,152.28 252.5,152.97 253.0,153.65 253.5,154.35 254.0,155.05 254.5,155.77 255.0,156.50 255.5,157.25 256.0,158.01 256.5,158.79 257.0,159.58 257.5,160.38 258.0,161.18 258.5,162.00 259.0,162.84 259.5,163.73 260.0,164.62 260.5,165.52 261.0,166.40 261.5,167.23 262.0,168.00 262.5,168.75 263.0,169.50 263.5,170.24 264.0,170.93 264.5,171.56 265.0,172.09 265.5,172.50 266.0,172.84 266.5,173.17 267.0,173.47 267.5,173.72 268.0,173.90 268.5,173.99 269.0,173.99 269.5,173.95 270.0,173.88 270.5,173.77 271.0,173.65 271.5,173.50 272.0,173.25 272.5,172.85 273.0,172.31 273.5,171.68 274.0,171.00 274.5,170.16 275.0,169.09 275.5,167.85 276.0,166.50 276.5,164.99 277.0,163.24 277.5,161.31 278.0,159.21 278.5,156.85 279.0,154.30 279.5,151.63 280.0,148.91 280.5,146.09 281.0,143.13 281.5,140.00 282.0,136.56 282.5,132.84 283.0,129.11 283.5,125.64 284.0,122.59 284.5,119.80 285.0,117.15 285.5,114.50 286.0,111.75 286.5,108.78 287.0,105.59 287.5,102.27 288.0,98.93 288.5,95.64 289.0,92.42 289.5,89.18 290.0,85.97 290.5,82.89 291.0,80.00 291.5,77.37 292.0,74.93 292.5,72.53 293.0,70.00 293.5,67.27 294.0,64.43 294.5,61.62 295.0,58.93 295.5,56.19 296.0,53.58 296.5,51.37 297.0,49.62 297.5,48.06 298.0,46.83 298.5,46.01 299.0,45.33 299.5,44.75 300.0,44.35 300.5,44.20 301.0,44.42 301.5,44.97 302.0,45.70 302.5,46.58 303.0,47.89 303.5,49.20 304.0,50.40 304.5,51.64 305.0,52.77 305.5,53.65 306.0,54.16 306.5,54.45 307.0,54.68 307.5,55.00 308.0,55.49 308.5,56.16 309.0,57.00 309.5,58.16 310.0,59.73 310.5,61.60 311.0,63.92 311.5,66.87 312.0,70.00 312.5,73.17 313.0,76.53 313.5,79.99 314.0,83.45 314.5,86.81 315.0,90.00 315.5,92.93 316.0,95.66 316.5,98.31 317.0,101.01 317.5,103.87 318.0,107.00 318.5,110.57 319.0,114.51 319.5,118.61 320.0,122.67 320.5,126.52 321.0,130.32 321.5,133.96 322.0,137.28 322.5,140.28 323.0,143.13 323.5,146.00 324.0,149.10 324.5,152.26 325.0,155.07 325.5,157.27 326.0,159.28 326.5,161.08 327.0,162.64 327.5,163.89 328.0,164.86 328.5,165.73 329.0,166.53 329.5,167.23 330.0,167.81 330.5,168.24 331.0,168.50 331.5,168.66 332.0,168.81 332.5,168.94 333.0,169.06 333.5,169.15 334.0,169.23 334.5,169.27 335.0,169.30 335.5,169.27 336.0,169.10 336.5,168.80 337.0,168.39 337.5,167.90 338.0,167.37 338.5,166.80 339.0,166.13 339.5,165.24 340.0,164.06 340.5,162.17 341.0,158.77 341.5,155.53 342.0,153.80 342.5,152.45 343.0,151.31 343.5,150.39 344.0,149.69 344.5,149.22 345.0,148.84 345.5,148.51 346.0,148.24 346.5,148.06 347.0,148.00 347.5,148.16 348.0,148.57 348.5,149.17 349.0,149.86 349.5,150.56 350.0,151.21 350.5,151.70 351.0,151.97 351.5,151.96 352.0,151.72 352.5,151.30 353.0,150.71 353.5,149.99 354.0,149.16 354.5,148.23 355.0,147.25 355.5,146.23 356.0,145.21 356.5,144.20 357.0,143.03 357.5,141.52 358.0,140.03 358.5,138.94 359.0,138.33 359.5,137.77 360.0,137.25 360.5,136.78 361.0,136.35 361.5,135.97 362.0,135.63 362.5,135.35 363.0,135.13 363.5,134.95 364.0,134.84 364.5,134.78 365.0,134.73 365.5,134.69 366.0,134.65 366.5,134.62 367.0,134.59 367.5,134.56 368.0,134.54 368.5,134.52 369.0,134.51 369.5,134.50 370.0,134.50 370.5,134.54 371.0,134.67 371.5,134.85 372.0,135.07 372.5,135.32 373.0,135.58 373.5,135.83 374.0,136.05 374.5,136.23 375.0,136.36 375.5,136.40 376.0,136.34 376.5,136.17 377.0,135.91 377.5,135.58 378.0,135.20 378.5,134.79 379.0,134.38 379.5,133.98 380.0,133.62 380.5,133.30 381.0,133.07 381.5,132.91 382.0,132.78 382.5,132.67 383.0,132.57 383.5,132.48 384.0,132.40 384.5,132.32 385.0,132.25 385.5,132.17 386.0,132.08 386.5,131.98 387.0,131.88 387.5,131.75 388.0,131.60 388.5,131.37 389.0,131.10 389.5,130.83 390.0,130.60 390.5,130.44 391.0,130.40 391.5,130.42 392.0,130.46 392.5,130.52 393.0,130.59 393.5,130.69 394.0,130.79 394.5,130.91 395.0,131.03 395.5,131.16 396.0,131.30 396.5,131.43 397.0,131.56 397.5,131.69 398.0,131.82 398.5,131.93 399.0,132.03 399.5,132.13 400.0,132.20 400.5,132.26 401.0,132.31 401.5,132.36 402.0,132.40 402.5,132.44 403.0,132.48 403.5,132.53 404.0,132.57 404.5,132.62 405.0,132.68 405.5,132.75 406.0,132.84 406.5,132.96 407.0,133.13 407.5,133.33 408.0,133.55 408.5,133.79 409.0,134.02 409.5,134.25 410.0,134.47 410.5,134.65 411.0,134.80 411.5,134.93 412.0,135.06 412.5,135.19 413.0,135.32 413.5,135.44 414.0,135.55 414.5,135.64 415.0,135.71 415.5,135.77 416.0,135.80 416.5,135.80 417.0,135.79 417.5,135.79 418.0,135.77 418.5,135.76 419.0,135.74 419.5,135.72 420.0,135.70 420.5,135.67 421.0,135.64 421.5,135.62 422.0,135.59 422.5,135.54 423.0,135.47 423.5,135.39 424.0,135.31 424.5,135.22 425.0,135.14 425.5,135.08 426.0,135.03 426.5,135.00 427.0,135.02 427.5,135.11 428.0,135.27 428.5,135.47 429.0,135.69 429.5,135.89 430.0,136.06 430.5,136.17 431.0,136.20 431.5,136.20 432.0,136.20 432.5,136.20 433.0,136.20 433.5,136.20 434.0,136.20 434.5,136.20 435.0,136.20 435.5,136.20 436.0,136.20 436.5,136.20 437.0,136.20 437.5,136.20 438.0,136.20 438.5,136.20 439.0,136.17 439.5,136.12 440.0,136.06 440.5,135.98 441.0,135.89 441.5,135.80 442.0,135.70 442.5,135.60 443.0,135.51 443.5,135.42 444.0,135.34 444.5,135.27 445.0,135.21 445.5,135.16 446.0,135.10 446.5,135.05 447.0,134.99 447.5,134.94 448.0,134.89 448.5,134.84 449.0,134.79 449.5,134.73 450.0,134.68 450.5,134.62 451.0,134.56 451.5,134.50 452.0,134.44 452.5,134.38 453.0,134.32 453.5,134.26 454.0,134.20 454.5,134.13 455.0,134.06 455.5,133.99 456.0,133.91 456.5,133.82 457.0,133.73 457.5,133.62 458.0,133.50 458.5,133.34 459.0,133.11 459.5,132.84 460.0,132.52 460.5,132.18 461.0,131.83 461.5,131.47 462.0,131.12 462.5,130.79 463.0,130.50 463.5,130.21 464.0,129.88 464.5,129.55 465.0,129.23 465.5,128.94 466.0,128.71 466.5,128.56 467.0,128.50 467.5,129.10 468.0,130.65 468.5,132.75 469.0,135.00 469.5,137.02 470.0,138.41 470.5,138.79 471.0,138.46 471.5,137.75 472.0,136.82 472.5,135.79 473.0,134.81 473.5,134.00 474.0,133.27 474.5,132.48 475.0,131.71 475.5,131.02 476.0,130.51 476.5,130.23 477.0,130.21 477.5,130.28 478.0,130.39 478.5,130.54 479.0,130.70 479.5,130.86 480.0,131.01 480.5,131.12 481.0,131.20 481.5,131.25 482.0,131.29 482.5,131.34 483.0,131.38 483.5,131.41 484.0,131.44 484.5,131.47 485.0,131.48 485.5,131.50 486.0,131.50 486.5,131.49 487.0,131.47 487.5,131.44 488.0,131.40 488.5,131.35 489.0,131.30 489.5,131.25 490.0,131.20 490.5,131.16 491.0,131.12 491.5,131.10 492.0,131.08 492.5,131.06 493.0,131.05 493.5,131.03 494.0,131.01 494.5,130.99 495.0,130.98 495.5,130.96 496.0,130.94 496.5,130.93 497.0,130.91 497.5,130.90 498.0,130.88 498.5,130.87 499.0,130.86 499.5,130.84 500.0,130.83 500.5,130.82 501.0,130.81 501.5,130.79 502.0,130.78 502.5,130.77 503.0,130.76 503.5,130.76 504.0,130.75 504.5,130.74 505.0,130.73 505.5,130.73 506.0,130.72 506.5,130.72 507.0,130.71 507.5,130.71 508.0,130.70 508.5,130.70 509.0,130.70 509.5,130.70 510.0,130.70 510.5,130.70 511.0,130.70 511.5,130.70 512.0,130.70 512.5,130.70 513.0,130.70 513.5,130.70 514.0,130.70 514.5,130.70 515.0,130.70 515.5,130.70 516.0,130.70 516.5,130.70 517.0,130.70 517.5,130.70 518.0,130.70 518.5,130.70 519.0,130.70 519.5,130.70 520.0,130.70 520.5,130.70 521.0,130.70 521.5,130.70 522.0,130.70 522.5,130.70 523.0,130.70 523.5,130.70 524.0,130.70 524.5,130.70 525.0,130.70 525.5,130.70 526.0,130.70 526.5,130.70 527.0,130.70 527.5,130.70 528.0,130.70 528.5,130.70 529.0,130.70 529.5,130.70 530.0,130.70 530.5,130.70 531.0,130.70 531.5,130.70 532.0,130.70 532.5,130.70 533.0,130.70 533.5,130.70 534.0,130.70 534.5,130.70 535.0,130.70 535.5,130.70 536.0,130.70 536.5,130.70 537.0,130.70" stroke="#9010ff" stroke-width="1.8"/>
<path d="M60.0,130.40 60.5,130.44 61.0,130.48 61.5,130.52 62.0,130.57 62.5,130.63 63.0,130.68 63.5,130.75 64.0,130.81 64.5,130.88 65.0,130.95 65.5,131.03 66.0,131.11 66.5,131.19 67.0,131.27 67.5,131.35 68.0,131.44 68.5,131.53 69.0,131.62 69.5,131.73 70.0,131.86 70.5,132.01 71.0,132.17 71.5,132.34 72.0,132.52 72.5,132.70 73.0,132.87 73.5,133.03 74.0,133.17 74.5,133.29 75.0,133.39 75.5,133.46 76.0,133.50 76.5,133.50 77.0,133.50 77.5,133.50 78.0,133.50 78.5,133.50 79.0,133.50 79.5,133.50 80.0,133.50 80.5,133.50 81.0,133.50 81.5,133.50 82.0,133.50 82.5,133.50 83.0,133.50 83.5,133.50 84.0,133.49 84.5,133.47 85.0,133.43 85.5,133.38 86.0,133.33 86.5,133.26 87.0,133.18 87.5,133.10 88.0,133.02 88.5,132.93 89.0,132.84 89.5,132.75 90.0,132.66 90.5,132.58 91.0,132.50 91.5,132.43 92.0,132.36 92.5,132.30 93.0,132.26 93.5,132.23 94.0,132.21 94.5,132.20 95.0,132.20 95.5,132.20 96.0,132.20 96.5,132.20 97.0,132.20 97.5,132.20 98.0,132.20 98.5,132.20 99.0,132.20 99.5,132.20 100.0,132.20 100.5,132.20 101.0,132.20 101.5,132.20 102.0,132.21 102.5,132.24 103.0,132.30 103.5,132.38 104.0,132.48 104.5,132.60 105.0,132.73 105.5,132.88 106.0,133.03 106.5,133.20 107.0,133.36 107.5,133.53 108.0,133.70 108.5,133.87 109.0,134.03 109.5,134.22 110.0,134.43 110.5,134.66 111.0,134.92 111.5,135.19 112.0,135.48 112.5,135.77 113.0,136.07 113.5,136.37 114.0,136.66 114.5,136.95 115.0,137.23 115.5,137.48 116.0,137.72 116.5,137.94 117.0,138.13 117.5,138.28 118.0,138.40 118.5,138.50 119.0,138.60 119.5,138.69 120.0,138.77 120.5,138.84 121.0,138.88 121.5,138.90 122.0,138.89 122.5,138.83 123.0,138.73 123.5,138.60 124.0,138.44 124.5,138.26 125.0,138.05 125.5,137.83 126.0,137.59 126.5,137.35 127.0,137.10 127.5,136.85 128.0,136.61 128.5,136.38 129.0,136.16 129.5,135.93 130.0,135.69 130.5,135.43 131.0,135.16 131.5,134.89 132.0,134.61 132.5,134.33 133.0,134.05 133.5,133.78 134.0,133.51 134.5,133.26 135.0,133.01 135.5,132.79 136.0,132.58 136.5,132.39 137.0,132.20 137.5,132.00 138.0,131.81 138.5,131.62 139.0,131.44 139.5,131.26 140.0,131.08 140.5,130.91 141.0,130.74 141.5,130.59 142.0,130.44 142.5,130.31 143.0,130.19 143.5,130.07 144.0,129.98 144.5,129.90 145.0,129.83 145.5,129.78 146.0,129.74 146.5,129.69 147.0,129.65 147.5,129.61 148.0,129.57 148.5,129.53 149.0,129.50 149.5,129.47 150.0,129.44 150.5,129.41 151.0,129.38 151.5,129.36 152.0,129.34 152.5,129.33 153.0,129.31 153.5,129.31 154.0,129.30 154.5,129.30 155.0,129.32 155.5,129.38 156.0,129.46 156.5,129.56 157.0,129.69 157.5,129.84 158.0,130.01 158.5,130.18 159.0,130.37 159.5,130.57 160.0,130.77 160.5,130.98 161.0,131.19 161.5,131.39 162.0,131.59 162.5,131.78 163.0,131.96 163.5,132.12 164.0,132.27 164.5,132.41 165.0,132.54 165.5,132.68 166.0,132.81 166.5,132.95 167.0,133.08 167.5,133.21 168.0,133.34 168.5,133.47 169.0,133.59 169.5,133.71 170.0,133.83 170.5,133.95 171.0,134.06 171.5,134.17 172.0,134.27 172.5,134.37 173.0,134.46 173.5,134.55 174.0,134.65 174.5,134.74 175.0,134.84 175.5,134.94 176.0,135.03 176.5,135.13 177.0,135.22 177.5,135.31 178.0,135.40 178.5,135.48 179.0,135.55 179.5,135.61 180.0,135.67 180.5,135.72 181.0,135.76 181.5,135.78 182.0,135.80 182.5,135.80 183.0,135.79 183.5,135.77 184.0,135.75 184.5,135.72 185.0,135.68 185.5,135.63 186.0,135.58 186.5,135.52 187.0,135.46 187.5,135.40 188.0,135.33 188.5,135.25 189.0,135.18 189.5,135.10 190.0,135.02 190.5,134.94 191.0,134.86 191.5,134.78 192.0,134.69 192.5,134.57 193.0,134.44 193.5,134.29 194.0,134.13 194.5,133.96 195.0,133.79 195.5,133.61 196.0,133.42 196.5,133.24 197.0,133.07 197.5,132.90 198.0,132.74 198.5,132.60 199.0,132.47 199.5,132.36 200.0,132.27 200.5,132.20 201.0,132.15 201.5,132.09 202.0,132.04 202.5,131.99 203.0,131.95 203.5,131.90 204.0,131.86 204.5,131.82 205.0,131.78 205.5,131.74 206.0,131.71 206.5,131.68 207.0,131.66 207.5,131.64 208.0,131.62 208.5,131.61 209.0,131.60 209.5,131.60 210.0,131.61 210.5,131.63 211.0,131.66 211.5,131.71 212.0,131.76 212.5,131.83 213.0,131.90 213.5,131.98 214.0,132.07 214.5,132.16 215.0,132.25 215.5,132.34 216.0,132.44 216.5,132.53 217.0,132.63 217.5,132.72 218.0,132.80 218.5,132.88 219.0,132.96 219.5,133.04 220.0,133.12 220.5,133.19 221.0,133.27 221.5,133.35 222.0,133.43 222.5,133.51 223.0,133.59 223.5,133.68 224.0,133.76 224.5,133.84 225.0,133.93 225.5,134.01 226.0,134.10 226.5,134.19 227.0,134.28 227.5,134.36 228.0,134.45 228.5,134.54 229.0,134.63 229.5,134.72 230.0,134.81 230.5,134.90 231.0,134.99 231.5,135.08 232.0,135.17 232.5,135.27 233.0,135.36 233.5,135.46 234.0,135.56 234.5,135.67 235.0,135.78 235.5,135.89 236.0,136.00 236.5,136.13 237.0,136.25 237.5,136.37 238.0,136.49 238.5,136.62 239.0,136.75 239.5,136.89 240.0,137.04 240.5,137.21 241.0,137.39 241.5,137.61 242.0,137.84 242.5,138.13 243.0,138.57 243.5,139.13 244.0,139.70 244.5,140.25 245.0,140.82 245.5,141.40 246.0,142.00 246.5,142.61 247.0,143.24 247.5,143.87 248.0,144.51 248.5,145.15 249.0,145.80 249.5,146.44 250.0,147.09 250.5,147.74 251.0,148.39 251.5,149.03 252.0,149.67 252.5,150.31 253.0,150.96 253.5,151.62 254.0,152.29 254.5,152.98 255.0,153.68 255.5,154.40 256.0,155.15 256.5,155.91 257.0,156.69 257.5,157.49 258.0,158.31 258.5,159.16 259.0,160.03 259.5,160.94 260.0,161.88 260.5,162.85 261.0,163.87 261.5,164.93 262.0,166.06 262.5,167.25 263.0,168.62 263.5,170.27 264.0,172.03 264.5,173.72 265.0,175.17 265.5,176.20 266.0,176.95 266.5,177.66 267.0,178.33 267.5,178.95 268.0,179.49 268.5,179.95 269.0,180.32 269.5,180.56 270.0,180.69 270.5,180.67 271.0,180.47 271.5,180.11 272.0,179.64 272.5,179.06 273.0,178.41 273.5,177.71 274.0,177.00 274.5,176.17 275.0,175.14 275.5,173.92 276.0,172.55 276.5,171.07 277.0,169.50 277.5,167.70 278.0,165.59 278.5,163.30 279.0,160.94 279.5,158.59 280.0,156.16 280.5,153.64 281.0,151.05 281.5,148.43 282.0,145.81 282.5,143.05 283.0,140.00 283.5,136.48 284.0,132.54 284.5,128.36 285.0,124.12 285.5,120.00 286.0,115.99 286.5,111.96 287.0,107.94 287.5,103.95 288.0,100.00 288.5,95.96 289.0,91.81 289.5,87.74 290.0,83.94 290.5,80.60 291.0,77.86 291.5,75.55 292.0,73.38 292.5,71.04 293.0,68.28 293.5,65.12 294.0,61.87 294.5,58.76 295.0,55.56 295.5,52.51 296.0,50.00 296.5,48.03 297.0,46.36 297.5,45.00 298.0,43.84 298.5,42.80 299.0,41.91 299.5,41.22 300.0,40.71 300.5,40.23 301.0,39.81 301.5,39.46 302.0,39.21 302.5,39.10 303.0,39.16 303.5,39.40 304.0,39.79 304.5,40.28 305.0,40.84 305.5,41.44 306.0,42.06 306.5,42.83 307.0,43.77 307.5,44.82 308.0,45.96 308.5,47.19 309.0,48.58 309.5,50.22 310.0,52.20 310.5,55.08 311.0,58.99 311.5,63.38 312.0,67.69 312.5,71.43 313.0,74.97 313.5,78.44 314.0,81.81 314.5,85.07 315.0,88.20 315.5,91.17 316.0,93.98 316.5,96.66 317.0,99.26 317.5,101.82 318.0,104.39 318.5,107.00 319.0,109.60 319.5,112.14 320.0,114.66 320.5,117.21 321.0,119.86 321.5,122.64 322.0,125.62 322.5,129.01 323.0,132.60 323.5,136.00 324.0,139.04 324.5,141.92 325.0,144.81 325.5,147.92 326.0,151.33 326.5,154.48 327.0,156.86 327.5,158.84 328.0,160.59 328.5,162.14 329.0,163.53 329.5,164.79 330.0,165.98 330.5,167.08 331.0,168.11 331.5,169.05 332.0,169.92 332.5,170.71 333.0,171.45 333.5,172.22 334.0,172.96 334.5,173.60 335.0,174.04 335.5,174.20 336.0,174.14 336.5,173.99 337.0,173.77 337.5,173.49 338.0,173.14 338.5,172.49 339.0,171.58 339.5,170.53 340.0,169.46 340.5,168.50 341.0,167.63 341.5,166.77 342.0,165.91 342.5,165.06 343.0,164.21 343.5,163.36 344.0,162.52 344.5,161.68 345.0,160.84 345.5,160.00 346.0,159.21 346.5,158.44 347.0,157.68 347.5,156.92 348.0,156.15 348.5,155.34 349.0,154.49 349.5,153.59 350.0,152.61 350.5,151.50 351.0,150.11 351.5,148.69 352.0,147.50 352.5,146.60 353.0,145.83 353.5,145.12 354.0,144.42 354.5,143.64 355.0,142.72 355.5,141.63 356.0,140.51 356.5,139.49 357.0,138.71 357.5,138.03 358.0,137.42 358.5,136.87 359.0,136.40 359.5,136.00 360.0,135.65 360.5,135.33 361.0,135.04 361.5,134.80 362.0,134.61 362.5,134.48 363.0,134.37 363.5,134.28 364.0,134.18 364.5,134.09 365.0,134.01 365.5,133.94 366.0,133.87 366.5,133.81 367.0,133.75 367.5,133.71 368.0,133.67 368.5,133.64 369.0,133.62 369.5,133.60 370.0,133.60 370.5,133.62 371.0,133.67 371.5,133.74 372.0,133.82 372.5,133.91 373.0,134.01 373.5,134.10 374.0,134.18 374.5,134.24 375.0,134.28 375.5,134.30 376.0,134.29 376.5,134.26 377.0,134.21 377.5,134.15 378.0,134.07 378.5,133.99 379.0,133.89 379.5,133.79 380.0,133.68 380.5,133.56 381.0,133.44 381.5,133.33 382.0,133.21 382.5,133.10 383.0,133.00 383.5,132.89 384.0,132.76 384.5,132.62 385.0,132.48 385.5,132.34 386.0,132.20 386.5,132.08 387.0,131.99 387.5,131.92 388.0,131.88 388.5,131.84 389.0,131.81 389.5,131.77 390.0,131.74 390.5,131.71 391.0,131.69 391.5,131.67 392.0,131.65 392.5,131.63 393.0,131.62 393.5,131.61 394.0,131.60 394.5,131.60 395.0,131.61 395.5,131.66 396.0,131.72 396.5,131.81 397.0,131.92 397.5,132.04 398.0,132.18 398.5,132.33 399.0,132.50 399.5,132.67 400.0,132.84 400.5,133.01 401.0,133.19 401.5,133.36 402.0,133.53 402.5,133.69 403.0,133.84 403.5,133.97 404.0,134.10 404.5,134.24 405.0,134.39 405.5,134.55 406.0,134.71 406.5,134.87 407.0,135.03 407.5,135.19 408.0,135.34 408.5,135.49 409.0,135.63 409.5,135.76 410.0,135.88 410.5,135.98 411.0,136.06 411.5,136.13 412.0,136.18 412.5,136.20 413.0,136.20 413.5,136.18 414.0,136.15 414.5,136.11 415.0,136.05 415.5,135.98 416.0,135.91 416.5,135.82 417.0,135.73 417.5,135.63 418.0,135.53 418.5,135.42 419.0,135.32 419.5,135.20 420.0,135.09 420.5,134.98 421.0,134.87 421.5,134.76 422.0,134.66 422.5,134.55 423.0,134.43 423.5,134.30 424.0,134.17 424.5,134.03 425.0,133.88 425.5,133.74 426.0,133.59 426.5,133.44 427.0,133.29 427.5,133.13 428.0,132.98 428.5,132.84 429.0,132.69 429.5,132.56 430.0,132.42 430.5,132.30 431.0,132.18 431.5,132.05 432.0,131.92 432.5,131.79 433.0,131.65 433.5,131.51 434.0,131.38 434.5,131.25 435.0,131.13 435.5,131.02 436.0,130.92 436.5,130.84 437.0,130.77 437.5,130.72 438.0,130.70 438.5,130.70 439.0,130.73 439.5,130.77 440.0,130.83 440.5,130.90 441.0,130.99 441.5,131.08 442.0,131.19 442.5,131.31 443.0,131.43 443.5,131.55 444.0,131.68 444.5,131.81 445.0,131.94 445.5,132.06 446.0,132.18 446.5,132.29 447.0,132.41 447.5,132.54 448.0,132.67 448.5,132.80 449.0,132.94 449.5,133.08 450.0,133.23 450.5,133.38 451.0,133.53 451.5,133.68 452.0,133.83 452.5,133.98 453.0,134.13 453.5,134.29 454.0,134.44 454.5,134.59 455.0,134.74 455.5,134.89 456.0,135.05 456.5,135.21 457.0,135.38 457.5,135.55 458.0,135.73 458.5,135.91 459.0,136.08 459.5,136.26 460.0,136.43 460.5,136.60 461.0,136.76 461.5,136.92 462.0,137.06 462.5,137.20 463.0,137.33 463.5,137.44 464.0,137.55 464.5,137.63 465.0,137.72 465.5,137.81 466.0,137.89 466.5,137.97 467.0,138.05 467.5,138.12 468.0,138.18 468.5,138.23 469.0,138.27 469.5,138.29 470.0,138.30 470.5,138.30 471.0,138.29 471.5,138.28 472.0,138.26 472.5,138.24 473.0,138.21 473.5,138.18 474.0,138.15 474.5,138.11 475.0,138.08 475.5,138.04 476.0,138.00 476.5,137.95 477.0,137.89 477.5,137.82 478.0,137.74 478.5,137.65 479.0,137.54 479.5,137.44 480.0,137.32 480.5,137.20 481.0,137.08 481.5,136.95 482.0,136.83 482.5,136.70 483.0,136.57 483.5,136.42 484.0,136.26 484.5,136.08 485.0,135.90 485.5,135.72 486.0,135.52 486.5,135.32 487.0,135.12 487.5,134.92 488.0,134.72 488.5,134.52 489.0,134.33 489.5,134.15 490.0,133.97 490.5,133.80 491.0,133.64 491.5,133.50 492.0,133.36 492.5,133.22 493.0,133.09 493.5,132.95 494.0,132.81 494.5,132.67 495.0,132.54 495.5,132.41 496.0,132.29 496.5,132.17 497.0,132.05 497.5,131.95 498.0,131.85 498.5,131.76 499.0,131.68 499.5,131.61 500.0,131.55 500.5,131.51 501.0,131.47 501.5,131.44 502.0,131.40 502.5,131.37 503.0,131.34 503.5,131.31 504.0,131.28 504.5,131.25 505.0,131.22 505.5,131.20 506.0,131.18 506.5,131.16 507.0,131.14 507.5,131.13 508.0,131.12 508.5,131.11 509.0,131.10 509.5,131.10 510.0,131.10 510.5,131.11 511.0,131.13 511.5,131.15 512.0,131.18 512.5,131.21 513.0,131.25 513.5,131.29 514.0,131.33 514.5,131.37 515.0,131.41 515.5,131.45 516.0,131.49 516.5,131.52 517.0,131.55 517.5,131.57 518.0,131.59 518.5,131.60 519.0,131.60 519.5,131.59 520.0,131.57 520.5,131.54 521.0,131.51 521.5,131.47 522.0,131.42 522.5,131.36 523.0,131.31 523.5,131.24 524.0,131.18 524.5,131.11 525.0,131.05 525.5,130.98 526.0,130.92 526.5,130.86 527.0,130.80 527.5,130.74 528.0,130.69 528.5,130.64 529.0,130.59 529.5,130.54 530.0,130.49 530.5,130.44 531.0,130.39 531.5,130.34 532.0,130.29 532.5,130.25 533.0,130.20 533.5,130.15 534.0,130.10 534.5,130.05 535.0,130.00 535.5,129.95 536.0,129.90 536.5,129.85 537.0,129.80" stroke="#000000" stroke-width="2.0"/>
</g>
<g stroke="#000" stroke-width="1.8">
<line x1="179.20" y1="195.3" x2="179.20" y2="190.10000000000002"/><line x1="298.55" y1="195.3" x2="298.55" y2="190.10000000000002"/><line x1="417.90" y1="195.3" x2="417.90" y2="190.10000000000002"/><line x1="119.53" y1="195.3" x2="119.53" y2="192.8"/><line x1="238.88" y1="195.3" x2="238.88" y2="192.8"/><line x1="358.23" y1="195.3" x2="358.23" y2="192.8"/><line x1="477.58" y1="195.3" x2="477.58" y2="192.8"/><line x1="59.6" y1="49.19" x2="64.8" y2="49.19"/><line x1="59.6" y1="90.87" x2="64.8" y2="90.87"/><line x1="59.6" y1="132.55" x2="64.8" y2="132.55"/><line x1="59.6" y1="174.23" x2="64.8" y2="174.23"/><line x1="59.6" y1="28.35" x2="62.1" y2="28.35"/><line x1="59.6" y1="70.03" x2="62.1" y2="70.03"/><line x1="59.6" y1="111.71" x2="62.1" y2="111.71"/><line x1="59.6" y1="153.39" x2="62.1" y2="153.39"/>
</g>
<rect x="59.6" y="7.3" width="477.9" height="188.0" fill="none" stroke="#000" stroke-width="2.0"/>
<g style="font-size:13.3px">
<text transform="translate(54.5,11.91) scale(1,1.0)" text-anchor="end">0.06</text><text transform="translate(54.5,53.59) scale(1,1.0)" text-anchor="end">0.04</text><text transform="translate(54.5,95.27) scale(1,1.0)" text-anchor="end">0.02</text><text transform="translate(54.5,136.95) scale(1,1.0)" text-anchor="end">0.00</text><text transform="translate(54.5,178.63) scale(1,1.0)" text-anchor="end">−0.02</text>
<text transform="translate(59.85,211.1) scale(1,1.0)" text-anchor="middle">0</text><text transform="translate(179.20,211.1) scale(1,1.0)" text-anchor="middle">50</text><text transform="translate(298.55,211.1) scale(1,1.0)" text-anchor="middle">100</text><text transform="translate(417.90,211.1) scale(1,1.0)" text-anchor="middle">150</text><text transform="translate(537.25,211.1) scale(1,1.0)" text-anchor="middle">200</text>
</g>
<text transform="translate(298.8,233.6) scale(1,1.0)" text-anchor="middle" style="font-size:13.45px">Sampling point (a.u.)</text>
<text transform="translate(13.8,107.5) rotate(-90) scale(1,1.0)" text-anchor="middle" style="font-size:13.45px">2f Intensity max (a.u.)</text>
<g style="font-size:10.9px">
<line x1="367.5" y1="17.90" x2="388.3" y2="17.90" stroke="#ff0000" stroke-width="1.5"/><text transform="translate(392.5,21.90) scale(1,1.07)">500 ppm Signal without noise</text><line x1="367.5" y1="31.50" x2="388.3" y2="31.50" stroke="#0a96ee" stroke-width="1.5"/><text transform="translate(392.5,35.50) scale(1,1.07)">500 ppm Signal with noise</text><line x1="367.5" y1="45.10" x2="388.3" y2="45.10" stroke="#000000" stroke-width="1.5"/><text transform="translate(392.5,49.10) scale(1,1.07)">Measured by PSO-VMD</text><line x1="367.5" y1="58.70" x2="388.3" y2="58.70" stroke="#9010ff" stroke-width="1.5"/><text transform="translate(392.5,62.70) scale(1,1.07)">Measured by Wavelet</text><line x1="367.5" y1="72.30" x2="388.3" y2="72.30" stroke="#64e664" stroke-width="1.5"/><text transform="translate(392.5,76.30) scale(1,1.07)">Measured by SG</text>
</g>
</svg>
</body></html>
